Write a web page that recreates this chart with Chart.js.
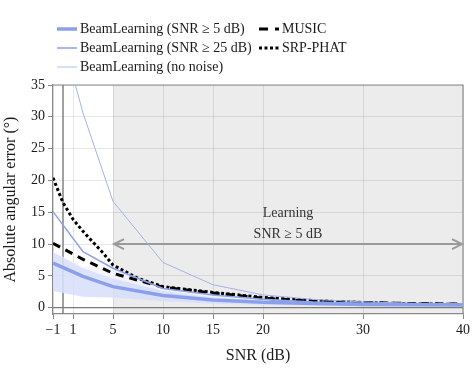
<!DOCTYPE html>
<html>
<head>
<meta charset="utf-8">
<script src="https://cdn.jsdelivr.net/npm/chart.js@4/dist/chart.umd.min.js"></script>
<style>
body{margin:0;background:#fff;}
#wrap{position:relative;width:474px;height:372px;}
#legend{position:absolute;left:0;top:0;font-family:"Liberation Serif",serif;font-size:14px;color:#1a1a1a;}
.item{position:absolute;white-space:nowrap;line-height:16px;}
.item svg{position:absolute;top:0;}
.item span{position:absolute;top:0;}
</style>
</head>
<body>
<div id="wrap">
<canvas id="grafico"></canvas>
<div id="legend"></div>
</div>
<script>

/* ============================= */
/* DATOS */
/* ============================= */

const snrBL = [-1, 2, 5, 10, 15, 20, 25, 30, 35, 40];
const beamLearning5 = [7.0, 4.9, 3.3, 1.9, 1.2, 0.85, 0.65, 0.5, 0.45, 0.4];
const beamLearning25 = [15.1, 8.8, 6.2, 3.0, 2.0, 1.3, 0.9, 0.7, 0.6, 0.5];
const beamLearningNoNoise = [48, 30.6, 16.7, 7.1, 3.6, 2.0, 1.3, 0.9, 0.7, 0.6];
const bandLower = [2.6, 1.7, 1.6, 1.0, 0.6, 0.4, 0.3, 0.25, 0.2, 0.2];
const bandOuterUpper = [8.8, 6.4, 6.5, 3.0, 1.8, 1.2, 0.9, 0.8, 0.7, 0.65];
const bandInnerUpper = [8.7, 6.2, 4.6, 2.6, 1.6, 1.1, 0.85, 0.7, 0.6, 0.55];

const snrMusic = [-1, 2, 5, 10, 15, 20, 25, 30, 35, 40];
const music = [10.1, 7.6, 5.4, 3.2, 2.3, 1.5, 1.0, 0.8, 0.65, 0.55];

const snrSrp = [-1, 0, 1, 2, 3, 4, 5, 7.5, 10, 15, 20, 25, 30, 35, 40];
const srpPhat = [20.4, 16.5, 13.9, 12.0, 10.3, 8.6, 6.7, 4.6, 3.3, 2.4, 1.6, 1.1, 0.8, 0.6, 0.5];

const xTicks = [-1, 1, 5, 10, 15, 20, 30, 40];
const yTicks = [0, 5, 10, 15, 20, 25, 30, 35];

const learningFrom = 5;
const learningTo = 40;
const arrowLevel = 10;

const fuente = '"Liberation Serif", serif';


function puntos(xs, ys){
return xs.map((x, i) => ({x: x, y: ys[i]}));
}


/* ============================= */
/* DECORACION */
/* ============================= */

const decor = {

id: 'decor',

beforeDraw(chart){
const {ctx, chartArea: a, scales: {x}} = chart;
const x0 = x.getPixelForValue(learningFrom);
ctx.save();
ctx.fillStyle = '#ececec';
ctx.fillRect(x0, a.top, a.right - x0, a.bottom - a.top);
ctx.restore();
},

beforeDatasetsDraw(chart){
const {ctx, chartArea: a, scales: {x, y}} = chart;
ctx.save();

// frame
ctx.strokeStyle = '#8a8a8a';
ctx.lineWidth = 1.2;
ctx.beginPath();
ctx.moveTo(a.left, a.top);
ctx.lineTo(a.right, a.top);
ctx.lineTo(a.right, a.bottom);
ctx.stroke();

// lineas cero
ctx.strokeStyle = '#7a7a7a';
ctx.lineWidth = 1.4;
const x0 = x.getPixelForValue(0);
const y0 = y.getPixelForValue(0);
ctx.beginPath();
ctx.moveTo(x0, a.top);
ctx.lineTo(x0, a.bottom);
ctx.moveTo(a.left, y0);
ctx.lineTo(a.right, y0);
ctx.stroke();

// flecha
const xa = x.getPixelForValue(learningFrom);
const xb = x.getPixelForValue(learningTo);
const ya = y.getPixelForValue(arrowLevel);
ctx.strokeStyle = '#9a9a9a';
ctx.lineWidth = 2;
ctx.beginPath();
ctx.moveTo(xa + 1, ya);
ctx.lineTo(xb - 1, ya);
ctx.moveTo(xa + 11, ya - 5);
ctx.lineTo(xa + 1, ya);
ctx.lineTo(xa + 11, ya + 5);
ctx.moveTo(xb - 11, ya - 5);
ctx.lineTo(xb - 1, ya);
ctx.lineTo(xb - 11, ya + 5);
ctx.stroke();

// texto
const xc = (xa + xb) / 2;
ctx.fillStyle = '#333';
ctx.font = '14px ' + fuente;
ctx.textAlign = 'center';
ctx.textBaseline = 'middle';
ctx.fillText('Learning', xc, ya - 31);
ctx.fillText('SNR \u2265 5 dB', xc, ya - 10);

ctx.restore();
}

};


/* ============================= */
/* GRAFICO */
/* ============================= */

const ctx = document.getElementById('grafico');

new Chart(ctx, {

type: 'line',

data: {
datasets: [
{
label: 'BeamLearning (SNR \u2265 5 dB)',
data: puntos(snrBL, beamLearning5),
borderColor: '#8aa0ec',
borderWidth: 3.5,
pointRadius: 0,
fill: false
},
{
label: 'BeamLearning (SNR \u2265 25 dB)',
data: puntos(snrBL, beamLearning25),
borderColor: '#8ca2e8',
borderWidth: 1.5,
pointRadius: 0,
fill: false
},
{
label: 'BeamLearning (no noise)',
data: puntos(snrBL, beamLearningNoNoise),
borderColor: '#a3b3ea',
borderWidth: 1,
pointRadius: 0,
fill: false
},
{
label: 'MUSIC',
data: puntos(snrMusic, music),
borderColor: '#000',
borderWidth: 3,
borderDash: [8, 6],
pointRadius: 0,
fill: false
},
{
label: 'SRP-PHAT',
data: puntos(snrSrp, srpPhat),
borderColor: '#000',
borderWidth: 3,
borderDash: [3, 2.5],
pointRadius: 0,
fill: false
},
{
label: 'band low',
data: puntos(snrBL, bandLower),
borderWidth: 0,
borderColor: 'rgba(0,0,0,0)',
pointRadius: 0,
fill: false
},
{
label: 'band inner',
data: puntos(snrBL, bandInnerUpper),
borderWidth: 0,
borderColor: 'rgba(0,0,0,0)',
backgroundColor: 'rgba(185,200,248,0.42)',
pointRadius: 0,
fill: 5
},
{
label: 'band outer',
data: puntos(snrBL, bandOuterUpper),
borderWidth: 0,
borderColor: 'rgba(0,0,0,0)',
backgroundColor: 'rgba(242,244,253,0.8)',
pointRadius: 0,
fill: 5
}
]
},

options: {

responsive: true,
maintainAspectRatio: false,
animation: false,

layout: {
padding: {top: 85, right: 11, left: 0, bottom: 0}
},

plugins: {
legend: {display: false},
tooltip: {enabled: false}
},

scales: {

x: {
type: 'linear',
min: -1,
max: 40,
afterBuildTicks: s => { s.ticks = xTicks.map(v => ({value: v})); },
afterFit: s => { s.height = 58; },
grid: {
color: 'rgba(0,0,0,0.09)',
tickColor: '#888',
tickLength: 5,
drawOnChartArea: true
},
border: {color: '#8a8a8a', width: 1.2},
ticks: {
color: '#1a1a1a',
font: {family: fuente, size: 14},
padding: 3,
maxRotation: 0,
autoSkip: false,
callback: v => v < 0 ? '\u2212' + Math.abs(v) : String(v)
},
title: {
display: true,
text: 'SNR (dB)',
color: '#1a1a1a',
font: {family: fuente, size: 16},
padding: {top: 0, bottom: 7}
}
},

y: {
min: -1,
max: 35,
afterBuildTicks: s => { s.ticks = yTicks.map(v => ({value: v})); },
afterFit: s => { s.width = 53; },
grid: {
color: 'rgba(0,0,0,0.09)',
tickColor: '#888',
tickLength: 5
},
border: {color: '#8a8a8a', width: 1.2},
ticks: {
color: '#1a1a1a',
font: {family: fuente, size: 14},
padding: 3
},
title: {
display: true,
text: 'Absolute angular error (\u00b0)',
color: '#1a1a1a',
font: {family: fuente, size: 16},
padding: {top: 1, bottom: 0}
}
}

}

},

plugins: [decor]

});


/* ============================= */
/* LEYENDA */
/* ============================= */

const leyenda = [
{texto: 'BeamLearning (SNR \u2265 5 dB)', x: 57, y: 21, color: '#8aa0ec', ancho: 3.5, dash: ''},
{texto: 'BeamLearning (SNR \u2265 25 dB)', x: 57, y: 40, color: '#8ca2e8', ancho: 1.5, dash: ''},
{texto: 'BeamLearning (no noise)', x: 57, y: 59, color: '#b3c0ee', ancho: 1, dash: ''},
{texto: 'MUSIC', x: 259, y: 21, color: '#000', ancho: 3, dash: '9 7'},
{texto: 'SRP-PHAT', x: 259, y: 40, color: '#000', ancho: 3, dash: '3 2.5'}
];

const cont = document.getElementById('legend');

leyenda.forEach(it => {
const d = document.createElement('div');
d.className = 'item';
d.style.left = it.x + 'px';
d.style.top = it.y + 'px';
d.innerHTML =
'<svg width="20" height="16"><line x1="0" y1="8" x2="20" y2="8" stroke="' + it.color +
'" stroke-width="' + it.ancho + '" stroke-dasharray="' + it.dash + '"/></svg>' +
'<span style="left:23px">' + it.texto + '</span>';
cont.appendChild(d);
});

</script>
</body>
</html>
